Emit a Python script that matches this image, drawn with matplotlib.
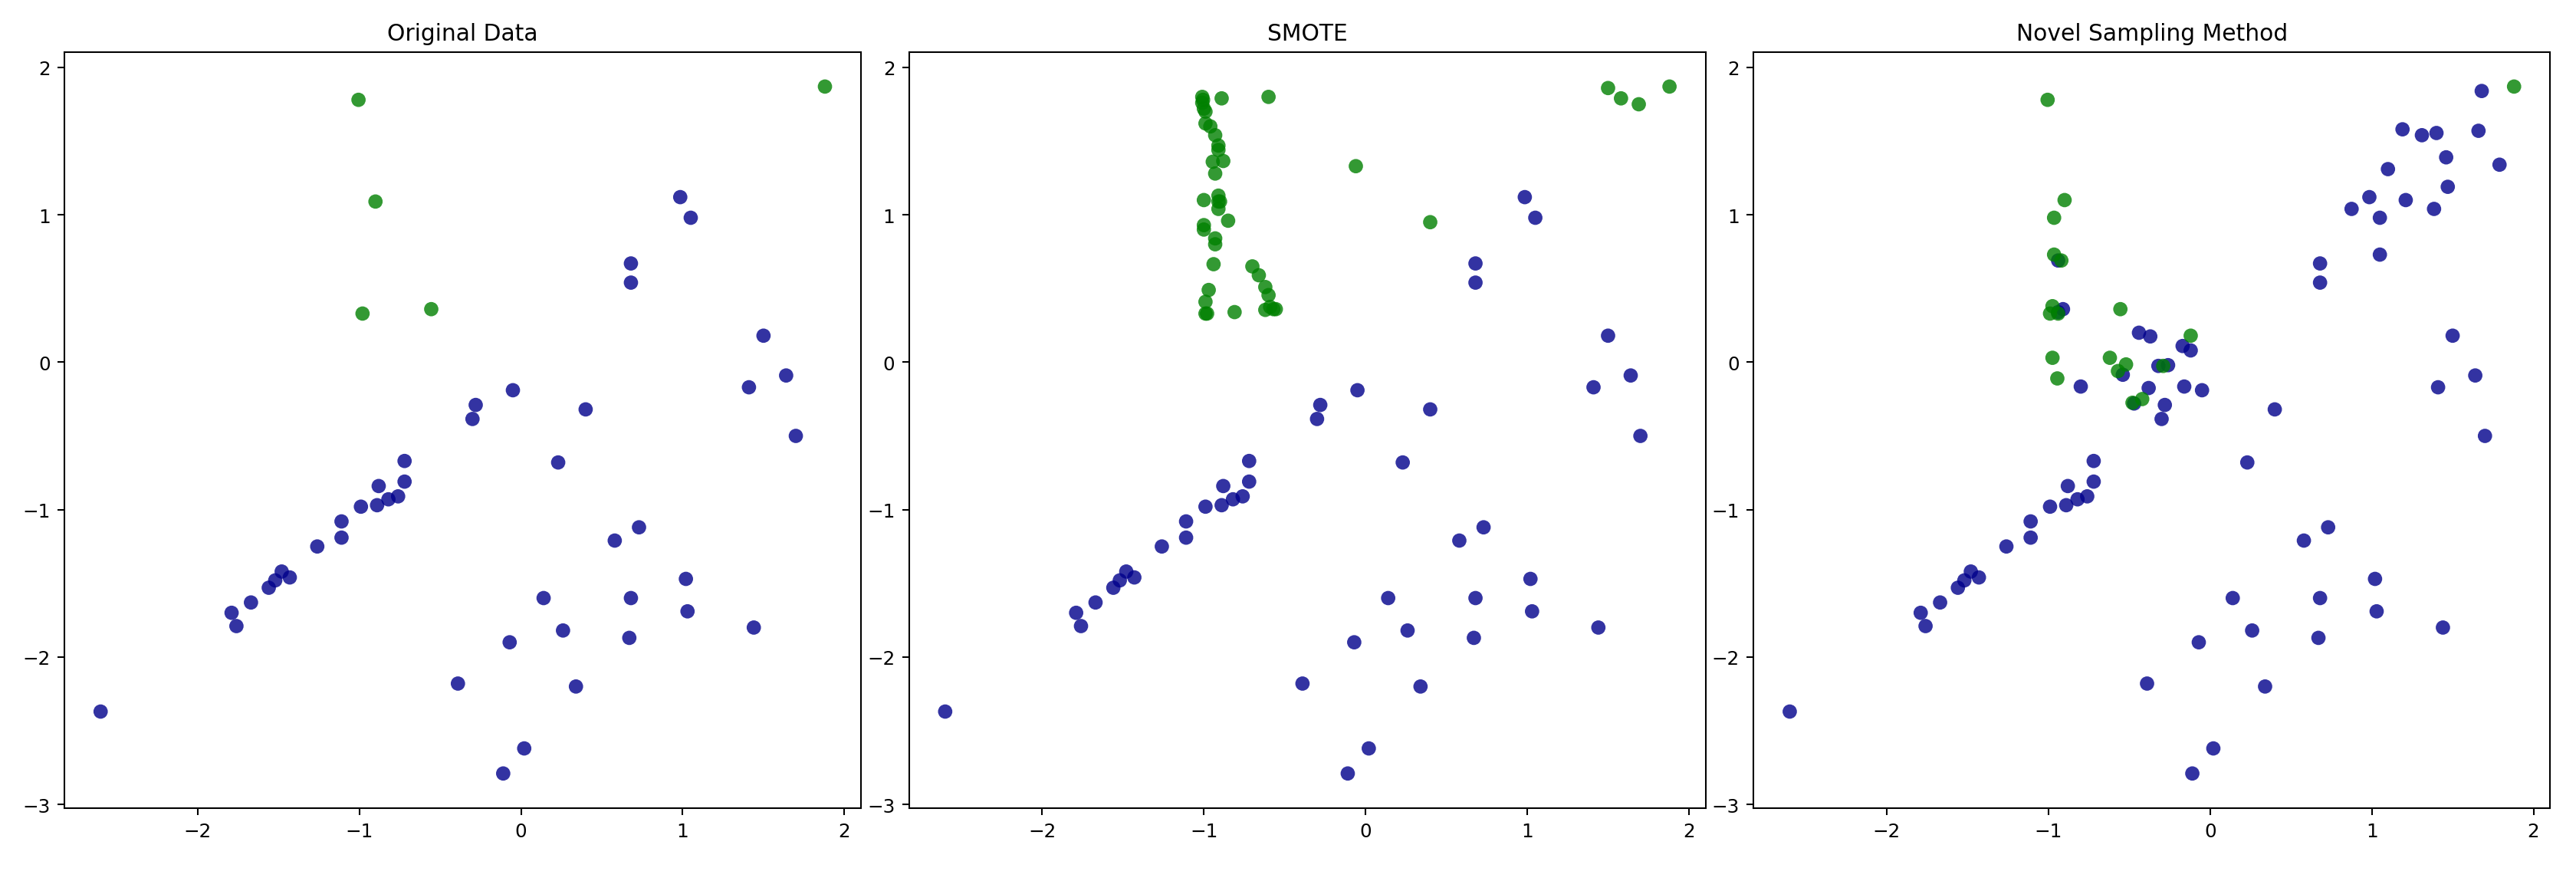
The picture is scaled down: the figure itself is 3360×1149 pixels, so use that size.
import matplotlib
matplotlib.use("Agg")
import matplotlib.pyplot as plt

blue_x = [-2.60,-1.79,-1.76,-1.67,-1.56,-1.52,-1.48,-1.43,-1.26,-1.11,-1.11,-0.99,-0.89,-0.88,-0.82,-0.76,-0.72,-0.72,
          -0.30,-0.28,-0.05,0.40,0.23,-0.39,-0.11,0.02,-0.07,0.14,0.26,0.34,0.58,0.73,0.68,0.67,0.68,0.68,0.985,1.05,
          1.02,1.03,1.44,1.41,1.50,1.64,1.70]
blue_y = [-2.37,-1.70,-1.79,-1.63,-1.53,-1.48,-1.42,-1.46,-1.25,-1.08,-1.19,-0.98,-0.97,-0.84,-0.93,-0.91,-0.67,-0.81,
          -0.385,-0.29,-0.19,-0.32,-0.68,-2.18,-2.79,-2.62,-1.90,-1.60,-1.82,-2.20,-1.21,-1.12,-1.60,-1.87,0.67,0.54,1.12,0.98,
          -1.47,-1.69,-1.80,-0.17,0.18,-0.09,-0.50]

green_x = [-1.005,-0.90,-0.98,-0.555,1.88]
green_y = [1.78,1.09,0.33,0.36,1.87]

smote_x = [-1.01,-1.01,-1.00,-0.99,-0.89,-0.60,-0.99,-0.96,-0.93,-0.91,-0.91,-0.945,-0.88,-0.93,-0.06,-1.00,-0.91,-0.91,
           -0.91,-0.85,-1.00,-1.00,-0.93,-0.93,0.40,-0.94,-0.70,-0.66,-0.62,-0.60,-0.97,-0.99,-0.99,-0.81,-0.62,-0.57,
           -0.59,1.50,1.58,1.69,-1.005,-0.90,-0.98,-0.555,1.88]
smote_y = [1.80,1.76,1.72,1.70,1.79,1.80,1.62,1.60,1.54,1.47,1.44,1.36,1.365,1.28,1.33,1.10,1.13,1.09,
           1.04,0.96,0.93,0.90,0.84,0.80,0.95,0.665,0.65,0.59,0.51,0.455,0.49,0.41,0.33,0.34,0.355,0.36,
           0.375,1.86,1.79,1.75,1.78,1.09,0.33,0.36,1.87]

novel_blue_x = [1.68,1.19,1.31,1.40,1.66,1.46,1.79,1.10,1.47,1.21,0.875,1.385,1.05,-0.94,-0.91,-0.94,-0.44,-0.37,
                -0.80,-0.54,-0.47,-0.38,-0.32,-0.26,-0.17,-0.12,-0.16]
novel_blue_y = [1.84,1.58,1.54,1.555,1.57,1.39,1.34,1.31,1.19,1.10,1.04,1.04,0.73,0.69,0.36,0.34,0.20,0.175,
                -0.165,-0.085,-0.28,-0.175,-0.025,-0.02,0.11,0.08,-0.165]
novel_green_x = [-1.005,-0.90,-0.965,-0.965,-0.92,-0.975,-0.99,-0.94,-0.555,-0.975,-0.945,-0.62,-0.52,-0.57,-0.48,
                 -0.42,-0.29,-0.12,1.88]
novel_green_y = [1.78,1.10,0.98,0.73,0.69,0.38,0.33,0.33,0.36,0.03,-0.11,0.03,-0.015,-0.06,-0.275,-0.25,-0.025,0.18,1.87]

titles = ["Original Data", "SMOTE", "Novel Sampling Method"]

fig, axes = plt.subplots(1, 3, figsize=(18, 6.16), dpi=186.67)
fig.subplots_adjust(left=0.025, right=0.99, top=0.94, bottom=0.083, wspace=0.06)
B = "#00008b"; G = "green"
kw = dict(s=52, alpha=0.8, edgecolors="none")

axes[0].scatter(blue_x, blue_y, color=B, **kw)
axes[0].scatter(green_x, green_y, color=G, **kw)
axes[1].scatter(blue_x, blue_y, color=B, **kw)
axes[1].scatter(smote_x, smote_y, color=G, **kw)
axes[2].scatter(blue_x + novel_blue_x, blue_y + novel_blue_y, color=B, **kw)
axes[2].scatter(novel_green_x, novel_green_y, color=G, **kw)
for ax, t in zip(axes, titles):
    ax.set_title(t, fontsize=11.5)
    ax.tick_params(labelsize=9.5)
fig.savefig("out.png")
